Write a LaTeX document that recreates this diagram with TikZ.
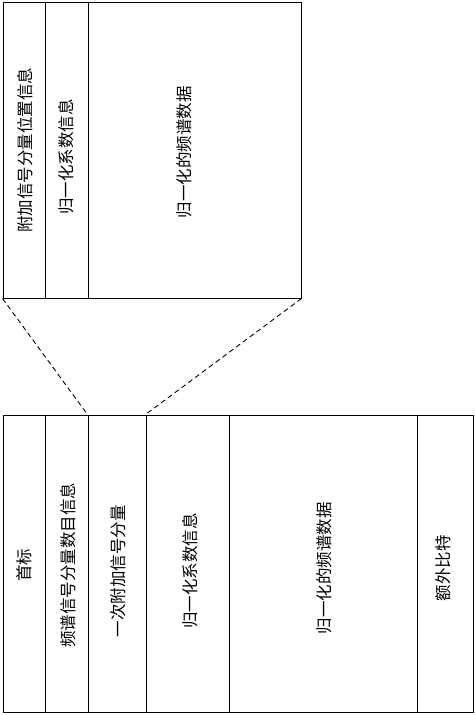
\documentclass[tikz,border=0pt]{standalone}
\usepackage{fontspec}
\usepackage{graphicx}
\newfontfamily\cjk{Noto Sans CJK SC}
\tikzset{
  cell/.style={draw=black, line width=1pt, inner sep=0pt, anchor=center},
  lbl/.style={font=\cjk\fontsize{16.5}{17}\selectfont, inner sep=0pt, rotate=90, anchor=center},
  link/.style={draw=black, line width=0.9pt, dash pattern=on 5pt off 3.5pt}
}
\begin{document}
\begin{tikzpicture}[x=1pt,y=-1pt]
\useasboundingbox (0,0) rectangle (474,715);
% top box
\node[cell, minimum width=42pt, minimum height=296pt] (t1) at (24,150) {};
\node[cell, minimum width=43pt, minimum height=296pt] (t2) at (66.5,150) {};
\node[cell, minimum width=213pt, minimum height=296pt] (t3) at (194.5,150) {};
% bottom box
\node[cell, minimum width=42pt, minimum height=297pt] (b1) at (24,563.5) {};
\node[cell, minimum width=43pt, minimum height=297pt] (b2) at (66.5,563.5) {};
\node[cell, minimum width=58pt, minimum height=297pt] (b3) at (117,563.5) {};
\node[cell, minimum width=83pt, minimum height=297pt] (b4) at (187.5,563.5) {};
\node[cell, minimum width=188pt, minimum height=297pt] (b5) at (323,563.5) {};
\node[cell, minimum width=56pt, minimum height=297pt] (b6) at (445,563.5) {};
% labels top
\node[lbl] (lt1) at (25,150) {附加信号分量位置信息};
\node[lbl] (lt2) at (66,157) {归一化系数信息};
\node[lbl] (lt3) at (184,152) {归一化的频谱数据};
% labels bottom
\node[lbl] (lb1) at (24,565) {首标};
\node[lbl] (lb2) at (68,565) {频谱信号分量数目信息};
\node[lbl] (lb3) at (118,571) {一次附加信号分量};
\node[lbl] (lb4) at (190,571) {归一化系数信息};
\node[lbl] (lb5) at (324,568) {归一化的频谱数据};
\node[lbl] (lb6) at (443,568) {额外比特};
% connectors
\draw[link] (t1.south west) -- (b3.north west);
\draw[link] (t3.south east) -- (b4.north west);
\end{tikzpicture}
\end{document}
